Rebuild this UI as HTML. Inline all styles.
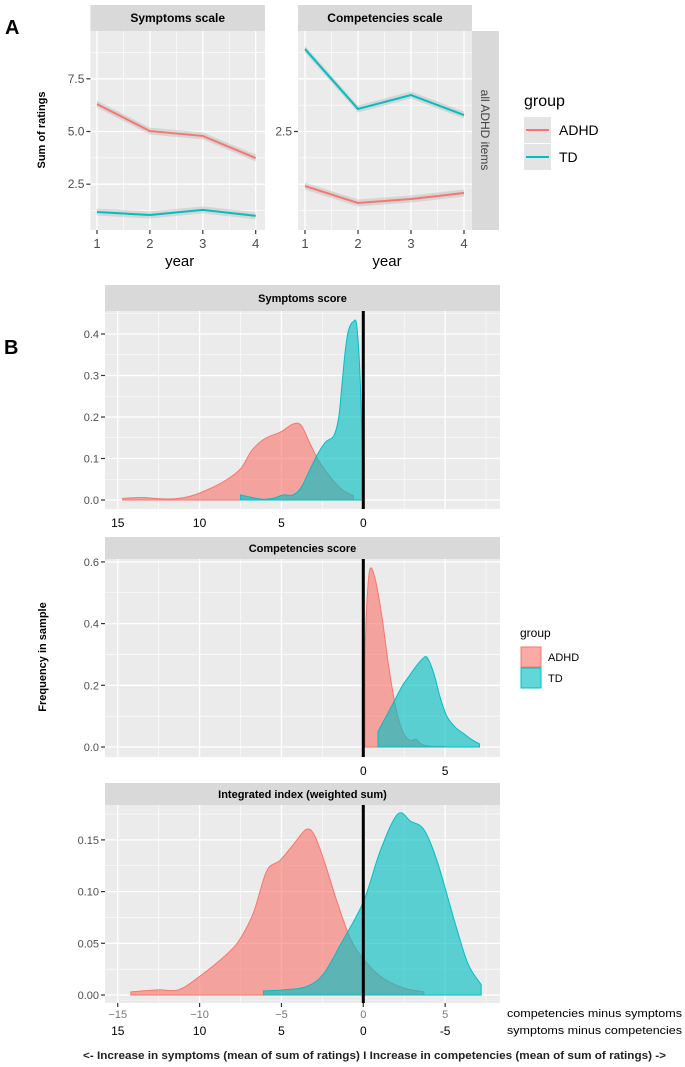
<!DOCTYPE html>
<html><head><meta charset="utf-8">
<style>
body{margin:0;background:#fff;}
svg{display:block;font-family:"Liberation Sans",sans-serif;}
</style></head>
<body>
<svg id="chart" width="685" height="1067" viewBox="0 0 685 1067" xmlns="http://www.w3.org/2000/svg"></svg>
<script>
// ---- Panel A data ----
const years = [1, 2, 3, 4];
const yTicksA = [2.5, 5.0, 7.5];
const symptomsADHD = [6.30, 5.02, 4.79, 3.74];
const symptomsTD = [1.18, 1.04, 1.28, 1.00];
const competenciesTD = [6.41, 3.57, 4.23, 3.28];
const competenciesADHD = [-0.09, -0.89, -0.70, -0.42];
// ---- Panel B data ----
const symADHDx = [14.7,13.5,12.5,11.5,10.5,9.5,8.5,7.5,6.8,6,5,4.3,3.8,3.3,2.8,2.3,1.8,1.3,0.6];
const symADHDy = [0.004,0.006,0.003,0.003,0.01,0.025,0.045,0.075,0.12,0.148,0.165,0.183,0.18,0.14,0.1,0.07,0.045,0.025,0.01];
const symTDx = [7.5,7,6.2,5.5,4.9,4.3,3.8,3.3,2.8,2.3,1.8,1.5,1.3,1.1,0.9,0.6,0.4,0.2,0.05];
const symTDy = [0.012,0.008,0.002,0.004,0.012,0.012,0.03,0.07,0.11,0.14,0.155,0.2,0.28,0.36,0.41,0.43,0.42,0.3,0.1];
const compADHDx = [0.1,0.2,0.35,0.5,0.7,0.9,1.2,1.5,1.8,2.1,2.5,2.9,3.2,3.6,4.2,5];
const compADHDy = [0.3,0.45,0.56,0.58,0.55,0.5,0.4,0.28,0.18,0.1,0.04,0.02,0.025,0.008,0.002,0.001];
const compTDx = [0.9,1.2,1.6,2,2.4,2.8,3.2,3.6,3.9,4.3,4.7,5.1,5.6,6.1,6.6,7.1];
const compTDy = [0.05,0.08,0.12,0.16,0.2,0.23,0.26,0.285,0.29,0.24,0.16,0.1,0.065,0.045,0.025,0.01];
const intADHDx = [-14.2,-12.6,-11.3,-10,-8.3,-7.5,-6.7,-5.9,-5.1,-4.3,-3.5,-3.0,-2.4,-1.6,-0.8,0,1.05,2.4,3.7];
const intADHDy = [0.003,0.005,0.005,0.018,0.04,0.055,0.08,0.12,0.13,0.145,0.16,0.155,0.13,0.09,0.055,0.035,0.018,0.007,0.003];
const intTDx = [-6.1,-4.85,-3.5,-2.45,-1.35,0,1.05,2.1,2.9,3.7,4.5,5.6,6.4,7.2];
const intTDy = [0.004,0.005,0.008,0.02,0.05,0.09,0.14,0.175,0.168,0.16,0.13,0.07,0.03,0.01];
const symTicks = [15, 10, 5, 0];
const compTicks = [0, 5];
const intTicks = [-15, -10, -5, 0, 5];
const intTicks2 = ["15","10","5","0","-5"];
const symYTicks = [0.0, 0.1, 0.2, 0.3, 0.4];
const compYTicks = [0.0, 0.2, 0.4, 0.6];
const intYTicks = [0.00, 0.05, 0.10, 0.15];

const NS = "http://www.w3.org/2000/svg";
const svg = document.getElementById("chart");
function mk(tag, attrs, parent) {
  const e = document.createElementNS(NS, tag);
  for (const k in attrs) e.setAttribute(k, attrs[k]);
  (parent || svg).appendChild(e);
  return e;
}
function txt(s, attrs, parent) { const t = mk("text", attrs, parent); t.textContent = s; return t; }
function smooth(pts) {
  let d = "";
  for (let i = 0; i < pts.length - 1; i++) {
    const p0 = pts[Math.max(0, i - 1)], p1 = pts[i], p2 = pts[i + 1], p3 = pts[Math.min(pts.length - 1, i + 2)];
    const c1 = [p1[0] + (p2[0] - p0[0]) / 6, p1[1] + (p2[1] - p0[1]) / 6];
    const c2 = [p2[0] - (p3[0] - p1[0]) / 6, p2[1] - (p3[1] - p1[1]) / 6];
    d += " C" + c1.join(",") + " " + c2.join(",") + " " + p2.join(",");
  }
  return d;
}
const RED = "#F8766D", TEAL = "#00BFC4";

// ---------- Panel A ----------
const yGrid = v => 131.5 - (v - 5) * 21.08;
const ySym = v => 131.5 - (v - 5) * 21.08;
const yComp = v => 131.5 - (v - 2.5) * 21.08;
let e = txt("A", {x: 5, y: 34, "font-size": 20, "font-weight": "bold"});



function lineFacet(name, x0, x1, xAt, yFn, title, seriesList, yTickList) {
  const g = mk("g", {});
  
  
  let s = mk("rect", {x: x0, y: 5, width: x1 - x0, height: 26, fill: "#D9D9D9"}, g);
  
  
  let t = txt(title, {x: (x0 + x1) / 2, y: 22, "text-anchor": "middle", "font-size": 12, "font-weight": "bold"}, g);
  
  
  mk("rect", {x: x0, y: 31, width: x1 - x0, height: 199, fill: "#EBEBEB"}, g);
  [1.25, 3.75, 6.25, 8.75].forEach(v => mk("line", {x1: x0, x2: x1, y1: yGrid(v), y2: yGrid(v), stroke: "#fff", "stroke-width": 0.6}, g));
  [2.5, 5, 7.5].forEach(v => mk("line", {x1: x0, x2: x1, y1: yGrid(v), y2: yGrid(v), stroke: "#fff", "stroke-width": 1.3}, g));
  [1.5, 2.5, 3.5].forEach(v => mk("line", {x1: xAt(v), x2: xAt(v), y1: 31, y2: 230, stroke: "#fff", "stroke-width": 0.6}, g));
  years.forEach(v => {
    mk("line", {x1: xAt(v), x2: xAt(v), y1: 31, y2: 230, stroke: "#fff", "stroke-width": 1.3}, g);
    mk("line", {x1: xAt(v), x2: xAt(v), y1: 230, y2: 234, stroke: "#333", "stroke-width": 1.2}, g);
    let tl = txt(String(v), {x: xAt(v), y: 248, "text-anchor": "middle", "font-size": 13, fill: "#4D4D4D"}, g);
    
    
  });
  yTickList.forEach(v => {
    mk("line", {x1: x0 - 4, x2: x0, y1: yFn(v), y2: yFn(v), stroke: "#333", "stroke-width": 1.2}, g);
    let tl = txt(v.toFixed(1), {x: x0 - 6, y: yFn(v) + 4, "text-anchor": "end", "font-size": 12, fill: "#4D4D4D"}, g);
    
    
  });
  seriesList.forEach(([vals, col, nm]) => {
    const pts = vals.map((v, i) => [xAt(years[i]), yFn(v)]);
    const up = pts.map(p => p[0] + "," + (p[1] - 3.5)).join(" ");
    const dn = pts.slice().reverse().map(p => p[0] + "," + (p[1] + 3.5)).join(" ");
    mk("polygon", {points: up + " " + dn, fill: "#bbb", opacity: 0.45}, g);
    let l = mk("polyline", {points: pts.map(p => p.join(",")).join(" "), fill: "none", stroke: col, "stroke-width": 2}, g);
    
    
  });
  let xl = txt("year", {x: (x0 + x1) / 2 + 2, y: 266, "text-anchor": "middle", "font-size": 15}, g);
  
  
}
lineFacet("symptoms-scale-panel", 90.4, 265, v => 97 + (v - 1) * 52.9, ySym, "Symptoms scale",
  [[symptomsADHD, RED, "line-adhd-symptoms"], [symptomsTD, TEAL, "line-td-symptoms"]], yTicksA);
lineFacet("competencies-scale-panel", 298, 472, v => 305 + (v - 1) * 53, yComp, "Competencies scale",
  [[competenciesTD, TEAL, "line-td-competencies"], [competenciesADHD, RED, "line-adhd-competencies"]], [2.5]);
e = mk("rect", {x: 472, y: 31, width: 27, height: 199, fill: "#D9D9D9"});


e = txt("all ADHD items", {x: 0, y: 0, transform: "translate(481,130) rotate(90)", "text-anchor": "middle", "font-size": 12, fill: "#444"});


e = txt("Sum of ratings", {x: 0, y: 0, transform: "translate(45,130) rotate(-90)", "text-anchor": "middle", "font-size": 11, "font-weight": "bold"});


e = txt("group", {x: 524, y: 106, "font-size": 16});


[["ADHD", RED, 130], ["TD", TEAL, 157]].forEach(([n, c, y]) => {
  mk("rect", {x: 524, y: y - 13, width: 27, height: 26, fill: "#E4E4E4"});
  let l = mk("line", {x1: 526, x2: 549, y1: y, y2: y, stroke: c, "stroke-width": 2});
  
  
  let t = txt(n, {x: 559, y: y + 5, "font-size": 14});
  
  
});

// ---------- Panel B ----------
const X0 = 105, X1 = 500, ZX = 363.3, PX = 16.37;
const xB = v => ZX + v * PX;
e = txt("B", {x: 4, y: 354, "font-size": 20, "font-weight": "bold"});



function densityFacet(name, title, sy0, top, bottom, yZero, yPer, yTicks, decimals, series, sign) {
  const yB = v => yZero - v * yPer;
  const g = mk("g", {});
  
  
  let s = mk("rect", {x: X0, y: sy0, width: X1 - X0, height: top - sy0, fill: "#D9D9D9"}, g);
  
  
  let t = txt(title, {x: (X0 + X1) / 2, y: (sy0 + top) / 2 + 4, "text-anchor": "middle", "font-size": 11, "font-weight": "bold"}, g);
  
  
  mk("rect", {x: X0, y: top, width: X1 - X0, height: bottom - top, fill: "#EBEBEB"}, g);
  const step = yTicks[1] - yTicks[0];
  for (let v = step / 2; yB(v) > top; v += step) mk("line", {x1: X0, x2: X1, y1: yB(v), y2: yB(v), stroke: "#fff", "stroke-width": 0.6}, g);
  [-12.5, -7.5, -2.5, 2.5, 7.5].forEach(v => mk("line", {x1: xB(v), x2: xB(v), y1: top, y2: bottom, stroke: "#fff", "stroke-width": 0.6}, g));
  [-15, -10, -5, 0, 5].forEach(v => mk("line", {x1: xB(v), x2: xB(v), y1: top, y2: bottom, stroke: "#fff", "stroke-width": 1.3}, g));
  yTicks.forEach(v => {
    mk("line", {x1: X0, x2: X1, y1: yB(v), y2: yB(v), stroke: "#fff", "stroke-width": 1.3}, g);
    mk("line", {x1: X0 - 4, x2: X0, y1: yB(v), y2: yB(v), stroke: "#333", "stroke-width": 1.2}, g);
    let tl = txt(v.toFixed(decimals), {x: X0 - 6, y: yB(v) + 4, "text-anchor": "end", "font-size": 11, fill: "#4D4D4D"}, g);
    
    
  });
  series.forEach(([xs, ys, col, nm]) => {
    let pts = xs.map((v, i) => [xB(sign * v), yB(ys[i])]);
    if (sign < 0) pts = pts.reverse();
    const d = "M" + pts[0][0] + "," + yB(0) + " L" + pts[0].join(",") + smooth(pts) + " L" + pts[pts.length - 1][0] + "," + yB(0) + " Z";
    let p = mk("path", {d: d, fill: col, "fill-opacity": 0.62, stroke: col, "stroke-width": 1}, g);
    
    
  });
  let z = mk("line", {x1: xB(0), x2: xB(0), y1: top, y2: bottom, stroke: "#000", "stroke-width": 3}, g);
  
  
  return g;
}
let g1 = densityFacet("symptoms-score-panel", "Symptoms score", 285, 311, 509, 500, 415, symYTicks, 1,
  [[symADHDx, symADHDy, RED, "density-adhd-symptoms"], [symTDx, symTDy, TEAL, "density-td-symptoms"]], -1);
symTicks.forEach(v => {
  let t = txt(String(v), {x: xB(-v), y: 527, "text-anchor": "middle", "font-size": 12}, g1);
  
  
});
let g2 = densityFacet("competencies-score-panel", "Competencies score", 537, 559, 757, 747, 308.5, compYTicks, 1,
  [[compADHDx, compADHDy, RED, "density-adhd-competencies"], [compTDx, compTDy, TEAL, "density-td-competencies"]], 1);
compTicks.forEach(v => {
  let t = txt(String(v), {x: xB(v), y: 775, "text-anchor": "middle", "font-size": 12}, g2);
  
  
});
let g3 = densityFacet("integrated-index-panel", "Integrated index (weighted sum)", 783, 805, 1003, 995, 1034, intYTicks, 2,
  [[intADHDx, intADHDy, RED, "density-adhd-integrated"], [intTDx, intTDy, TEAL, "density-td-integrated"]], 1);
intTicks.forEach((v, i) => {
  mk("line", {x1: xB(v), x2: xB(v), y1: 1003, y2: 1007, stroke: "#333", "stroke-width": 1.2}, g3);
  let t = txt(v < 0 ? "\u2212" + Math.abs(v) : String(v), {x: xB(v), y: 1018, "text-anchor": "middle", "font-size": 11, fill: "#777"}, g3);
  
  
  let t2 = txt(intTicks2[i], {x: xB(v), y: 1035, "text-anchor": "middle", "font-size": 12}, g3);
  
  
});
e = txt("competencies minus symptoms", {x: 507, y: 1017, "font-size": 11, textLength: 175, lengthAdjust: "spacingAndGlyphs"});


e = txt("symptoms minus competencies", {x: 507, y: 1034, "font-size": 11, textLength: 175, lengthAdjust: "spacingAndGlyphs"});


e = txt("<- Increase in symptoms (mean of sum of ratings)  I  Increase in competencies (mean of sum of ratings) ->", {x: 83, y: 1059, "font-size": 11, "font-weight": "bold", fill: "#222", textLength: 583, lengthAdjust: "spacingAndGlyphs"});


e = txt("Frequency in sample", {x: 0, y: 0, transform: "translate(46,657) rotate(-90)", "text-anchor": "middle", "font-size": 11, "font-weight": "bold"});


e = txt("group", {x: 520, y: 637, "font-size": 12});


[["ADHD", RED, 647], ["TD", TEAL, 668]].forEach(([n, c, y]) => {
  let r = mk("rect", {x: 521, y: y, width: 20, height: 20, fill: c, "fill-opacity": 0.62, stroke: c, "stroke-width": 1});
  
  
  let t = txt(n, {x: 548, y: y + 14, "font-size": 11});
  
  
});
</script>
</body></html>
